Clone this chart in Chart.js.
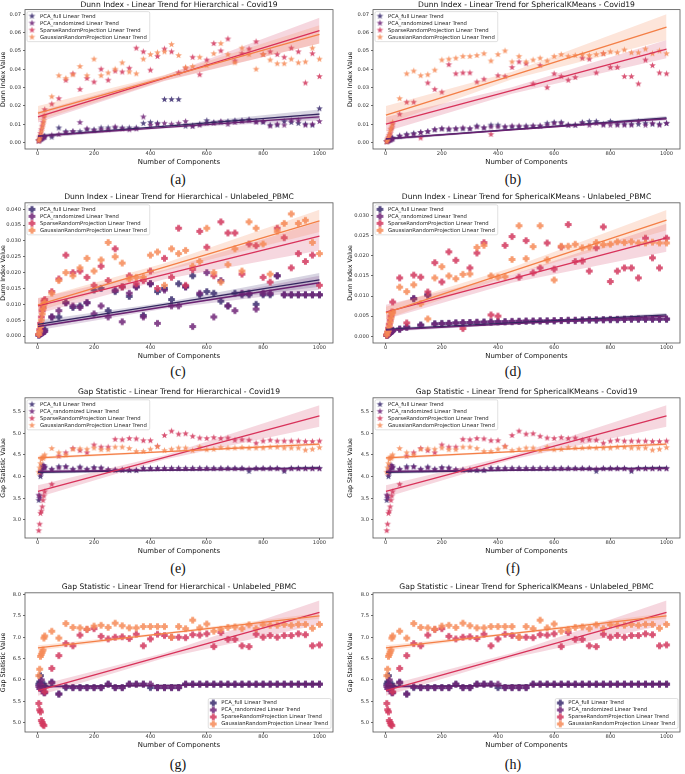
<!DOCTYPE html>
<html>
<head>
<meta charset="utf-8">
<script src="https://cdn.jsdelivr.net/npm/chart.js@4.4.1/dist/chart.umd.min.js"></script>
<style>
body { margin: 0; background: #fff; }
#page { position: relative; width: 685px; height: 774px; overflow: hidden; background: #fff; }
canvas { position: absolute; }
.cap { position: absolute; width: 40px; text-align: center; font-family: "Liberation Serif", serif; font-size: 14px; color: #111; }
</style>
</head>
<body>
<div id="page"></div>
<script>
// number of components (x) shared by every panel
const components = [4, 7, 10, 13, 16, 19, 22, 25,
  50, 75, 100, 125, 150, 175, 200, 225, 250, 275,
  300, 325, 350, 375, 400, 425, 450, 475, 500, 525,
  550, 575, 600, 625, 650, 675, 700, 725, 750, 775,
  800, 825, 850, 875, 900, 925, 950, 975, 1000];

const seriesNames = ['PCA_full', 'PCA_randomized', 'SparseRandomProjection', 'GaussianRandomProjection'];
const xTicks = [0, 200, 400, 600, 800, 1000];
const bandX = [1, 450, 1000];

// (a) Dunn - Hierarchical - Covid19
const dunnHierCovidFull = [0.001, 0.0015, 0.002, 0.002, 0.0025, 0.003, 0.003, 0.0035,
  0.003, 0.008, 0.006, 0.006, 0.006, 0.007, 0.007, 0.008, 0.008, 0.008,
  0.008, 0.008, 0.008, 0.0105, 0.011, 0.0105, 0.0235, 0.0235, 0.0235, 0.009,
  0.009, 0.01, 0.012, 0.011, 0.011, 0.0115, 0.012, 0.012, 0.0125, 0.0115,
  0.011, 0.0095, 0.0095, 0.0115, 0.011, 0.0105, 0.01, 0.0095, 0.0185];
const dunnHierCovidRand = [0.0008, 0.0012, 0.0018, 0.002, 0.0022, 0.0025, 0.003, 0.003,
  0.004, 0.0045, 0.0055, 0.006, 0.011, 0.0075, 0.0065, 0.007, 0.007, 0.0085,
  0.0075, 0.007, 0.0075, 0.014, 0.0095, 0.01, 0.0105, 0.01, 0.0105, 0.0115,
  0.009, 0.0095, 0.0105, 0.0105, 0.0115, 0.01, 0.011, 0.0115, 0.012, 0.011,
  0.0115, 0.009, 0.01, 0.0095, 0.012, 0.012, 0.0095, 0.01, 0.0115];
const dunnHierCovidSparse = [0.001, 0.003, 0.005, 0.007, 0.009, 0.011, 0.014, 0.018,
  0.021, 0.024, 0.034, 0.0375, 0.029, 0.035, 0.033, 0.04, 0.034, 0.039,
  0.0385, 0.0405, 0.0515, 0.0495, 0.0395, 0.047, 0.051, 0.0495, 0.038, 0.0405,
  0.0465, 0.037, 0.045, 0.054, 0.05, 0.0565, 0.0445, 0.0485, 0.051, 0.055,
  0.048, 0.0495, 0.048, 0.0465, 0.0515, 0.0495, 0.0325, 0.0485, 0.036];
const dunnHierCovidGauss = [0.001, 0.002, 0.004, 0.006, 0.008, 0.01, 0.012, 0.015,
  0.025, 0.0365, 0.035, 0.037, 0.0415, 0.0365, 0.0455, 0.0365, 0.038, 0.04,
  0.0435, 0.0385, 0.0375, 0.0455, 0.048, 0.049, 0.0495, 0.0535, 0.0475, 0.041,
  0.0415, 0.0465, 0.042, 0.0485, 0.054, 0.048, 0.0435, 0.0515, 0.048, 0.04,
  0.048, 0.045, 0.043, 0.043, 0.0455, 0.0435, 0.044, 0.0515, 0.0455];
const dunnHierCovidTrendStart = [0.0035, 0.0035, 0.014, 0.016];
const dunnHierCovidTrendEnd = [0.0155, 0.014, 0.061, 0.059];
const dunnHierCovidBand = [[0.001, 0.0005, 0.0025], [0.001, 0.0005, 0.002], [0.003, 0.0015, 0.007], [0.004, 0.0015, 0.005]];

// (b) Dunn - SphericalKMeans - Covid19
const dunnSphCovidFull = [0.0005, 0.001, 0.001, 0.0015, 0.0015, 0.002, 0.002, 0.0025,
  0.0035, 0.0045, 0.005, 0.0055, 0.006, 0.007, 0.0075, 0.007, 0.0075, 0.0075,
  0.0075, 0.009, 0.008, 0.0095, 0.0095, 0.0085, 0.0085, 0.0085, 0.009, 0.009,
  0.009, 0.0105, 0.011, 0.011, 0.0095, 0.0095, 0.011, 0.0115, 0.0115, 0.01,
  0.0115, 0.01, 0.01, 0.01, 0.01, 0.0105, 0.01, 0.01, 0.0105];
const dunnSphCovidRand = [0.0005, 0.0008, 0.001, 0.0012, 0.0015, 0.0015, 0.002, 0.002,
  0.0035, 0.004, 0.0045, 0.0055, 0.006, 0.007, 0.0075, 0.0075, 0.0075, 0.008,
  0.0075, 0.0085, 0.008, 0.0085, 0.0085, 0.0085, 0.009, 0.009, 0.0085, 0.009,
  0.009, 0.0095, 0.0105, 0.0105, 0.0095, 0.0095, 0.0105, 0.0095, 0.0105, 0.0095,
  0.0095, 0.0095, 0.0095, 0.0095, 0.0115, 0.0095, 0.0105, 0.0095, 0.0105];
const dunnSphCovidSparse = [0.0005, 0.002, 0.003, 0.004, 0.005, 0.007, 0.008, 0.01,
  0.0155, 0.022, 0.022, 0.0025, 0.0325, 0.029, 0.0275, 0.0425, 0.0375, 0.038,
  0.038, 0.033, 0.0345, 0.0045, 0.0365, 0.036, 0.041, 0.044, 0.043, 0.032,
  0.042, 0.03, 0.0375, 0.036, 0.034, 0.0355, 0.046, 0.0455, 0.038, 0.0485,
  0.041, 0.041, 0.036, 0.036, 0.032, 0.045, 0.042, 0.038, 0.0375];
const dunnSphCovidGauss = [0.0005, 0.0015, 0.0025, 0.004, 0.006, 0.0075, 0.009, 0.011,
  0.024, 0.0375, 0.039, 0.0365, 0.037, 0.0395, 0.045, 0.0455, 0.046, 0.047,
  0.047, 0.0475, 0.0485, 0.0445, 0.048, 0.05, 0.044, 0.047, 0.044, 0.045,
  0.046, 0.0445, 0.047, 0.048, 0.047, 0.0475, 0.048, 0.0475, 0.048, 0.0485,
  0.0495, 0.049, 0.0505, 0.049, 0.049, 0.051, 0.0485, 0.05, 0.0485];
const dunnSphCovidTrendStart = [0.002, 0.002, 0.01, 0.015];
const dunnSphCovidTrendEnd = [0.0135, 0.013, 0.051, 0.063];
const dunnSphCovidBand = [[0.0008, 0.0004, 0.001], [0.0008, 0.0004, 0.001], [0.004, 0.0018, 0.005], [0.005, 0.002, 0.007]];

// (c) Dunn - Hierarchical - Unlabeled_PBMC
const dunnHierPbmcFull = [0.0003, 0.0006, 0.0008, 0.001, 0.0012, 0.0015, 0.0015, 0.002,
  0.006, 0.006, 0.0105, 0.009, 0.0095, 0.0105, 0.0145, 0.015, 0.008, 0.014,
  0.0155, 0.0125, 0.0155, 0.0065, 0.0165, 0.014, 0.015, 0.0115, 0.0165, 0.0155,
  0.019, 0.013, 0.014, 0.0135, 0.011, 0.0095, 0.0135, 0.013, 0.013, 0.01,
  0.013, 0.013, 0.019, 0.013, 0.013, 0.013, 0.013, 0.013, 0.013];
const dunnHierPbmcRand = [0.0003, 0.0005, 0.0007, 0.0009, 0.001, 0.0012, 0.0014, 0.0015,
  0.006, 0.008, 0.0105, 0.0095, 0.009, 0.0105, 0.007, 0.0095, 0.006, 0.0145,
  0.0045, 0.0135, 0.0155, 0.006, 0.0165, 0.004, 0.0145, 0.0095, 0.0095, 0.0155,
  0.003, 0.0135, 0.02, 0.006, 0.0175, 0.0095, 0.008, 0.0135, 0.0135, 0.0085,
  0.0135, 0.0135, 0.019, 0.013, 0.013, 0.013, 0.013, 0.013, 0.013];
const dunnHierPbmcSparse = [0.0005, 0.002, 0.004, 0.006, 0.008, 0.009, 0.011, 0.0115,
  0.014, 0.018, 0.0255, 0.02, 0.0205, 0.0185, 0.016, 0.022, 0.0175, 0.0275,
  0.0155, 0.019, 0.0165, 0.0175, 0.0205, 0.015, 0.0245, 0.0185, 0.034, 0.016,
  0.021, 0.033, 0.028, 0.019, 0.036, 0.0325, 0.0325, 0.0195, 0.029, 0.0285,
  0.0185, 0.017, 0.034, 0.031, 0.0215, 0.026, 0.0235, 0.0255, 0.016];
const dunnHierPbmcGauss = [0.0005, 0.0015, 0.003, 0.005, 0.007, 0.0085, 0.01, 0.0105,
  0.0135, 0.0175, 0.02, 0.019, 0.0215, 0.0245, 0.0205, 0.024, 0.0295, 0.025,
  0.023, 0.018, 0.0185, 0.0185, 0.0255, 0.0265, 0.016, 0.0275, 0.026, 0.027,
  0.022, 0.0235, 0.034, 0.02, 0.017, 0.0225, 0.0275, 0.0205, 0.036, 0.034,
  0.029, 0.0195, 0.033, 0.0355, 0.0385, 0.0355, 0.0365, 0.0295, 0.026];
const dunnHierPbmcTrendStart = [0.0037, 0.003, 0.0095, 0.0098];
const dunnHierPbmcTrendEnd = [0.0177, 0.0168, 0.0315, 0.0363];
const dunnHierPbmcBand = [[0.0012, 0.0006, 0.0022], [0.0012, 0.0006, 0.0022], [0.0025, 0.0015, 0.0045], [0.002, 0.0012, 0.0035]];

// (d) Dunn - SphericalKMeans - Unlabeled_PBMC
const dunnSphPbmcFull = [0.0002, 0.0004, 0.0006, 0.0008, 0.001, 0.0012, 0.0013, 0.0015,
  0.0018, 0.0023, 0.0093, 0.0028, 0.0103, 0.0031, 0.0032, 0.0032, 0.0033, 0.0033,
  0.0034, 0.0034, 0.0035, 0.0035, 0.0036, 0.0036, 0.0036, 0.0037, 0.0037, 0.0037,
  0.0038, 0.0038, 0.0038, 0.0039, 0.0039, 0.0039, 0.004, 0.004, 0.004, 0.0041,
  0.0041, 0.0041, 0.0042, 0.0042, 0.0042, 0.0042, 0.0042, 0.0042, 0.0042];
const dunnSphPbmcRand = [0.0002, 0.0003, 0.0005, 0.0007, 0.0009, 0.0011, 0.0012, 0.0014,
  0.0017, 0.0022, 0.0094, 0.0027, 0.0102, 0.003, 0.0031, 0.0032, 0.0033, 0.0034,
  0.0034, 0.0035, 0.0035, 0.0036, 0.0036, 0.0036, 0.0037, 0.0037, 0.0038, 0.0038,
  0.0038, 0.0038, 0.0039, 0.0039, 0.004, 0.004, 0.004, 0.0041, 0.0041, 0.0041,
  0.0042, 0.0042, 0.0042, 0.0043, 0.0043, 0.0043, 0.0043, 0.0043, 0.0043];
const dunnSphPbmcSparse = [0.0003, 0.001, 0.002, 0.003, 0.004, 0.005, 0.006, 0.0085,
  0.0145, 0.0033, 0.0152, 0.0147, 0.011, 0.0183, 0.0135, 0.021, 0.0189, 0.0019,
  0.017, 0.0207, 0.0233, 0.0053, 0.005, 0.0226, 0.0248, 0.0147, 0.0238, 0.0158,
  0.017, 0.0232, 0.0167, 0.0222, 0.0278, 0.0186, 0.0187, 0.0162, 0.022, 0.0272,
  0.0136, 0.0162, 0.017, 0.017, 0.0145, 0.0244, 0.0195, 0.017, 0.0244];
const dunnSphPbmcGauss = [0.0003, 0.001, 0.0015, 0.0025, 0.0035, 0.0045, 0.0055, 0.006,
  0.0122, 0.0111, 0.0128, 0.0081, 0.0043, 0.0145, 0.0173, 0.015, 0.0143, 0.0154,
  0.0155, 0.0221, 0.0226, 0.015, 0.0147, 0.0148, 0.0191, 0.0275, 0.0193, 0.0223,
  0.0275, 0.019, 0.014, 0.0224, 0.0224, 0.0229, 0.022, 0.0222, 0.0233, 0.0228,
  0.0229, 0.0235, 0.0233, 0.0235, 0.0232, 0.0232, 0.0234, 0.0232, 0.0232];
const dunnSphPbmcTrendStart = [0.0017, 0.0015, 0.006, 0.0058];
const dunnSphPbmcTrendEnd = [0.0053, 0.005, 0.0245, 0.0289];
const dunnSphPbmcBand = [[0.0004, 0.0002, 0.0005], [0.0004, 0.0002, 0.0005], [0.0018, 0.001, 0.0035], [0.0015, 0.0009, 0.0025]];

// (e), (f) Gap statistic - Covid19 (both panels show the same values)
const gapCovidFull = [3.45, 3.55, 4.0, 4.1, 4.2, 4.25, 4.2, 4.22,
  4.17, 4.23, 4.23, 4.17, 4.22, 4.17, 4.21, 4.2, 4.15, 4.15,
  4.15, 4.14, 4.14, 4.19, 4.19, 4.19, 4.19, 4.19, 4.19, 4.19,
  4.19, 4.19, 4.19, 4.19, 4.19, 4.19, 4.19, 4.19, 4.12, 4.19,
  4.19, 4.19, 4.19, 4.12, 4.19, 4.19, 4.19, 4.19, 4.19];
const gapCovidRand = [3.57, 3.5, 4.05, 4.15, 4.25, 4.2, 4.25, 4.2,
  4.16, 4.2, 4.22, 4.16, 4.2, 4.16, 4.19, 4.19, 4.16, 4.15,
  4.15, 4.15, 4.15, 4.18, 4.18, 4.18, 4.18, 4.18, 4.18, 4.18,
  4.18, 4.18, 4.18, 4.18, 4.18, 4.18, 4.18, 4.18, 4.18, 4.18,
  4.18, 4.18, 4.18, 4.15, 4.18, 4.18, 4.18, 4.18, 4.18];
const gapCovidSparse = [2.75, 2.9, 3.15, 3.2, 3.3, 3.45, 3.55, 3.65,
  3.82, 4.47, 4.55, 4.65, 4.6, 4.55, 4.73, 4.68, 4.68, 4.86,
  4.85, 4.88, 4.87, 4.83, 4.83, 4.7, 4.95, 5.05, 4.98, 4.99,
  4.93, 4.89, 4.88, 4.9, 4.88, 4.89, 4.84, 4.85, 4.84, 4.77,
  4.82, 4.84, 4.82, 4.82, 4.82, 4.82, 4.81, 4.81, 4.82];
const gapCovidGauss = [4.1, 4.2, 4.3, 4.4, 4.45, 4.42, 4.45, 4.5,
  4.65, 4.55, 4.5, 4.63, 4.64, 4.63, 4.66, 4.62, 4.62, 4.68,
  4.68, 4.65, 4.58, 4.58, 4.63, 4.69, 4.6, 4.63, 4.66, 4.66,
  4.6, 4.68, 4.62, 4.63, 4.67, 4.66, 4.66, 4.67, 4.66, 4.66,
  4.66, 4.68, 4.68, 4.66, 4.66, 4.66, 4.61, 4.63, 4.67];
const gapCovidTrendStart = [4.1, 4.12, 3.66, 4.43];
const gapCovidTrendEnd = [4.2, 4.19, 5.4, 4.75];
const gapCovidBand = [[0.04, 0.015, 0.04], [0.04, 0.015, 0.04], [0.14, 0.05, 0.25], [0.035, 0.015, 0.04]];

// (g), (h) Gap statistic - Unlabeled_PBMC (both panels show the same values)
const gapPbmcFull = [5.9, 5.95, 6.1, 5.85, 5.8, 5.85, 5.9, 5.85,
  5.93, 5.67, 5.82, 5.82, 5.82, 5.82, 5.82, 5.82, 5.9, 5.82,
  5.82, 5.9, 5.9, 5.9, 5.82, 5.82, 5.82, 5.82, 5.82, 5.9,
  5.9, 5.9, 5.9, 5.9, 5.9, 5.9, 5.9, 5.9, 5.9, 5.9,
  5.9, 5.9, 5.9, 5.9, 5.9, 5.9, 5.9, 5.9, 5.9];
const gapPbmcRand = [5.85, 5.8, 5.9, 6.0, 5.85, 5.75, 5.7, 5.7,
  5.95, 5.67, 5.84, 5.82, 5.82, 5.82, 5.82, 5.82, 5.9, 5.82,
  5.82, 5.9, 5.9, 5.9, 5.9, 5.82, 5.82, 5.82, 5.82, 5.9,
  5.9, 5.9, 5.9, 5.9, 5.9, 5.9, 5.9, 5.9, 5.9, 5.9,
  5.9, 5.9, 5.9, 5.9, 5.9, 5.9, 5.9, 5.9, 5.9];
const gapPbmcSparse = [5.45, 5.3, 5.25, 5.05, 5.0, 4.95, 4.93, 5.72,
  6.27, 6.57, 6.85, 6.8, 7.05, 7.18, 7.2, 7.02, 6.96, 7.0,
  7.01, 6.97, 7.07, 6.8, 6.96, 7.07, 7.04, 7.0, 7.0, 6.99,
  7.06, 7.05, 7.08, 6.78, 7.11, 6.95, 6.95, 6.8, 6.78, 7.07,
  7.0, 7.04, 7.0, 7.04, 7.04, 7.08, 7.06, 6.8, 6.82];
const gapPbmcGauss = [6.1, 6.25, 6.55, 6.6, 6.65, 6.7, 6.98, 7.03,
  7.14, 6.98, 7.32, 7.23, 7.22, 7.19, 7.26, 7.28, 7.23, 7.33,
  7.27, 7.22, 7.22, 7.25, 7.25, 7.25, 7.25, 7.0, 7.25, 7.2,
  7.4, 7.22, 7.31, 7.14, 7.18, 7.23, 7.24, 7.2, 7.29, 7.2,
  7.29, 7.28, 7.28, 7.3, 7.28, 7.3, 7.3, 7.21, 7.3];
const gapPbmcTrendStart = [5.85, 5.84, 5.75, 6.75];
const gapPbmcTrendEnd = [5.9, 5.9, 7.58, 7.5];
const gapPbmcBand = [[0.02, 0.01, 0.02], [0.02, 0.01, 0.02], [0.12, 0.06, 0.28], [0.06, 0.025, 0.07]];

const dunnCovidTicks = [0, 0.01, 0.02, 0.03, 0.04, 0.05, 0.06, 0.07];
const dunnHierPbmcTicks = [0, 0.005, 0.01, 0.015, 0.02, 0.025, 0.03, 0.035, 0.04];
const dunnSphPbmcTicks = [0, 0.005, 0.01, 0.015, 0.02, 0.025, 0.03];
const gapCovidTicks = [3.0, 3.5, 4.0, 4.5, 5.0, 5.5];
const gapPbmcTicks = [5.0, 5.5, 6.0, 6.5, 7.0, 7.5, 8.0];

const FONT = '"DejaVu Sans", sans-serif';
const pointColors = ['rgba(58,44,111,0.85)', 'rgba(112,38,120,0.85)', 'rgba(210,56,94,0.85)', 'rgba(246,139,88,0.85)'];
const lineColors = ['#33275f', '#6a2272', '#d8325a', '#f47f46'];
const bandColors = ['rgba(58,44,111,0.2)', 'rgba(112,38,120,0.2)', 'rgba(210,56,94,0.2)', 'rgba(244,127,70,0.2)'];

function starMarker(color, r) {
  const c = document.createElement('canvas');
  const s = Math.ceil(r * 2 + 2);
  c.width = s; c.height = s;
  const g = c.getContext('2d');
  g.fillStyle = color;
  g.beginPath();
  for (let k = 0; k < 10; k++) {
    const rad = k % 2 === 0 ? r : r * 0.4;
    const a = -Math.PI / 2 + k * Math.PI / 5;
    const px = s / 2 + rad * Math.cos(a), py = s / 2 + rad * Math.sin(a);
    if (k === 0) g.moveTo(px, py); else g.lineTo(px, py);
  }
  g.closePath();
  g.fill();
  return c;
}

function plusMarker(color, r) {
  const c = document.createElement('canvas');
  const s = Math.ceil(r * 2 + 2);
  c.width = s; c.height = s;
  const g = c.getContext('2d');
  const m = s / 2, t = r * 0.45;
  g.fillStyle = color;
  g.beginPath();
  g.moveTo(m - t, m - r); g.lineTo(m + t, m - r); g.lineTo(m + t, m - t); g.lineTo(m + r, m - t);
  g.lineTo(m + r, m + t); g.lineTo(m + t, m + t); g.lineTo(m + t, m + r); g.lineTo(m - t, m + r);
  g.lineTo(m - t, m + t); g.lineTo(m - r, m + t); g.lineTo(m - r, m - t); g.lineTo(m - t, m - t);
  g.closePath();
  g.fill();
  return c;
}

const markers = {
  star: pointColors.map(c => starMarker(c, 3.5)),
  plus: pointColors.map(c => plusMarker(c, 3.3))
};

const panels = [
  { col: 0, row: 0, caption: '(a)', title: 'Dunn Index - Linear Trend for Hierarchical - Covid19', yLabel: 'Dunn Index Value',
    yMin: -0.0035, yMax: 0.0725, yTicks: dunnCovidTicks, dec: 2, marker: 'star', legend: 'tl',
    series: [dunnHierCovidFull, dunnHierCovidRand, dunnHierCovidSparse, dunnHierCovidGauss],
    trendStart: dunnHierCovidTrendStart, trendEnd: dunnHierCovidTrendEnd, band: dunnHierCovidBand },
  { col: 1, row: 0, caption: '(b)', title: 'Dunn Index - Linear Trend for SphericalKMeans - Covid19', yLabel: 'Dunn Index Value',
    yMin: -0.0035, yMax: 0.0725, yTicks: dunnCovidTicks, dec: 2, marker: 'star', legend: 'tl',
    series: [dunnSphCovidFull, dunnSphCovidRand, dunnSphCovidSparse, dunnSphCovidGauss],
    trendStart: dunnSphCovidTrendStart, trendEnd: dunnSphCovidTrendEnd, band: dunnSphCovidBand },
  { col: 0, row: 1, caption: '(c)', title: 'Dunn Index - Linear Trend for Hierarchical - Unlabeled_PBMC', yLabel: 'Dunn Index Value',
    yMin: -0.0022, yMax: 0.042, yTicks: dunnHierPbmcTicks, dec: 3, marker: 'plus', legend: 'tl',
    series: [dunnHierPbmcFull, dunnHierPbmcRand, dunnHierPbmcSparse, dunnHierPbmcGauss],
    trendStart: dunnHierPbmcTrendStart, trendEnd: dunnHierPbmcTrendEnd, band: dunnHierPbmcBand },
  { col: 1, row: 1, caption: '(d)', title: 'Dunn Index - Linear Trend for SphericalKMeans - Unlabeled_PBMC', yLabel: 'Dunn Index Value',
    yMin: -0.0017, yMax: 0.0332, yTicks: dunnSphPbmcTicks, dec: 3, marker: 'plus', legend: 'tl',
    series: [dunnSphPbmcFull, dunnSphPbmcRand, dunnSphPbmcSparse, dunnSphPbmcGauss],
    trendStart: dunnSphPbmcTrendStart, trendEnd: dunnSphPbmcTrendEnd, band: dunnSphPbmcBand },
  { col: 0, row: 2, caption: '(e)', title: 'Gap Statistic - Linear Trend for Hierarchical - Covid19', yLabel: 'Gap Statistic Value',
    yMin: 2.58, yMax: 5.82, yTicks: gapCovidTicks, dec: 1, marker: 'star', legend: 'tl',
    series: [gapCovidFull, gapCovidRand, gapCovidSparse, gapCovidGauss],
    trendStart: gapCovidTrendStart, trendEnd: gapCovidTrendEnd, band: gapCovidBand },
  { col: 1, row: 2, caption: '(f)', title: 'Gap Statistic - Linear Trend for SphericalKMeans - Covid19', yLabel: 'Gap Statistic Value',
    yMin: 2.58, yMax: 5.82, yTicks: gapCovidTicks, dec: 1, marker: 'star', legend: 'tl',
    series: [gapCovidFull, gapCovidRand, gapCovidSparse, gapCovidGauss],
    trendStart: gapCovidTrendStart, trendEnd: gapCovidTrendEnd, band: gapCovidBand },
  { col: 0, row: 3, caption: '(g)', title: 'Gap Statistic - Linear Trend for Hierarchical - Unlabeled_PBMC', yLabel: 'Gap Statistic Value',
    yMin: 4.78, yMax: 8.04, yTicks: gapPbmcTicks, dec: 1, marker: 'plus', legend: 'br',
    series: [gapPbmcFull, gapPbmcRand, gapPbmcSparse, gapPbmcGauss],
    trendStart: gapPbmcTrendStart, trendEnd: gapPbmcTrendEnd, band: gapPbmcBand },
  { col: 1, row: 3, caption: '(h)', title: 'Gap Statistic - Linear Trend for SphericalKMeans - Unlabeled_PBMC', yLabel: 'Gap Statistic Value',
    yMin: 4.78, yMax: 8.04, yTicks: gapPbmcTicks, dec: 1, marker: 'plus', legend: 'br',
    series: [gapPbmcFull, gapPbmcRand, gapPbmcSparse, gapPbmcGauss],
    trendStart: gapPbmcTrendStart, trendEnd: gapPbmcTrendEnd, band: gapPbmcBand }
];

const rowTops = [0, 192, 387, 582];
const rowBottoms = [149, 151, 151, 150];
const captionY = [181, 373, 570, 766];
const captionX = [178, 513];
const page = document.getElementById('page');

// frame round the axes plus the legend box inside it
const framePlugin = {
  id: 'frameLegend',
  afterDatasetsDraw(chart, args, opts) {
    const { ctx, chartArea: ca } = chart;
    ctx.save();
    ctx.strokeStyle = '#555';
    ctx.lineWidth = 0.8;
    ctx.strokeRect(ca.left, ca.top, ca.right - ca.left, ca.bottom - ca.top);

    ctx.font = '5.3px ' + FONT;
    const labels = seriesNames.map(n => n + ' Linear Trend');
    const tw = Math.max(...labels.map(l => ctx.measureText(l).width));
    const rowH = 7, w = 13 + tw + 3, h = rowH * 4 + 2;
    let x, y;
    if (opts.pos === 'br') { x = ca.right - 2 - w; y = ca.bottom - 3.5 - h; }
    else { x = ca.left + 2; y = ca.top + 2; }
    ctx.fillStyle = 'rgba(255,255,255,0.85)';
    ctx.strokeStyle = '#cccccc';
    ctx.lineWidth = 0.6;
    ctx.beginPath();
    ctx.roundRect(x, y, w, h, 1.5);
    ctx.fill();
    ctx.stroke();
    ctx.textBaseline = 'middle';
    ctx.fillStyle = '#222';
    labels.forEach((l, i) => {
      const cy = y + 1 + rowH * (i + 0.5);
      const m = opts.markers[i];
      ctx.drawImage(m, x + 5 - m.width / 2, cy - m.height / 2);
      ctx.fillText(l, x + 13, cy);
    });
    ctx.restore();
  }
};

function makePanel(p) {
  const W = p.col === 0 ? 340 : 345;
  const plotLeft = p.col === 0 ? 25 : 33;
  const plotRight = p.col === 0 ? 333 : 340;
  const plotBottom = rowBottoms[p.row];
  const H = plotBottom + 19;
  const canvas = document.createElement('canvas');
  canvas.width = W;
  canvas.height = H;
  canvas.style.left = (p.col === 0 ? 0 : 340) + 'px';
  canvas.style.top = rowTops[p.row] + 'px';
  page.appendChild(canvas);

  const datasets = [];
  const lines = [];
  p.series.forEach((vals, s) => {
    datasets.push({
      type: 'scatter',
      data: components.map((x, i) => ({ x: x, y: vals[i] })),
      pointStyle: markers[p.marker][s],
      pointRadius: 3
    });
    const a = p.trendStart[s], b = p.trendEnd[s];
    const at = x => a + (b - a) * (x - 1) / 999;
    datasets.push({
      type: 'line',
      data: bandX.map((x, k) => ({ x: x, y: at(x) + p.band[s][k] })),
      borderWidth: 0, pointRadius: 0, fill: false
    });
    datasets.push({
      type: 'line',
      data: bandX.map((x, k) => ({ x: x, y: at(x) - p.band[s][k] })),
      borderWidth: 0, pointRadius: 0, fill: '-1', backgroundColor: bandColors[s]
    });
    lines.push({
      type: 'line',
      data: [{ x: 1, y: a }, { x: 1000, y: b }],
      borderColor: lineColors[s], borderWidth: 1.3, pointRadius: 0, fill: false
    });
  });
  lines.forEach(l => datasets.push(l));
  // first dataset in the list is painted first
  datasets.forEach((d, i) => { d.order = datasets.length - i; });

  new Chart(canvas.getContext('2d'), {
    type: 'scatter',
    data: { datasets: datasets },
    options: {
      responsive: false,
      animation: false,
      events: [],
      layout: { padding: { left: 0, right: W - plotRight, top: 0, bottom: 0 } },
      plugins: {
        legend: { display: false },
        tooltip: { enabled: false },
        title: {
          display: true, text: p.title, fullSize: false, color: '#111',
          font: { family: FONT, size: 7.6, weight: 'normal' },
          padding: p.row === 0 ? { top: 0, bottom: 0.5 } : { top: 0.5, bottom: 1.2 }
        },
        frameLegend: { pos: p.legend, markers: markers[p.marker] }
      },
      scales: {
        x: {
          type: 'linear', min: -45, max: 1048,
          afterBuildTicks: s => { s.ticks = xTicks.map(v => ({ value: v })); },
          afterFit: s => { s.height = H - plotBottom; },
          ticks: { font: { family: FONT, size: 5.2 }, color: '#333', padding: 0, maxRotation: 0, callback: v => String(v) },
          grid: { display: true, drawOnChartArea: false, drawTicks: true, tickLength: 2, color: '#444', lineWidth: 0.8 },
          border: { display: false },
          title: { display: true, text: 'Number of Components', color: '#111', font: { family: FONT, size: 6.9 }, padding: { top: 0, bottom: 1.5 } }
        },
        y: {
          type: 'linear', min: p.yMin, max: p.yMax,
          afterBuildTicks: s => { s.ticks = p.yTicks.map(v => ({ value: v })); },
          afterFit: s => { s.width = plotLeft; },
          ticks: { font: { family: FONT, size: 5.2 }, color: '#333', padding: 2, callback: v => v.toFixed(p.dec) },
          grid: { display: true, drawOnChartArea: false, drawTicks: true, tickLength: 2, color: '#444', lineWidth: 0.8 },
          border: { display: false },
          title: { display: true, text: p.yLabel, color: '#111', font: { family: FONT, size: 6.3 }, padding: { top: p.col === 0 ? 0 : 7, bottom: 0 } }
        }
      }
    },
    plugins: [framePlugin]
  });

  const cap = document.createElement('div');
  cap.className = 'cap';
  cap.textContent = p.caption;
  cap.style.left = (captionX[p.col] - 20) + 'px';
  cap.style.top = (captionY[p.row] - 9) + 'px';
  page.appendChild(cap);
}

panels.forEach(makePanel);
</script>
</body>
</html>
